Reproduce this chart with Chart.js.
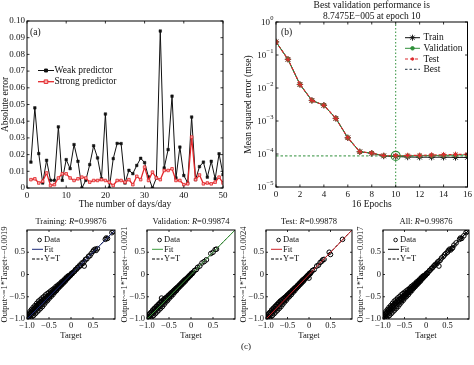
<!DOCTYPE html>
<html>
<head>
<meta charset="utf-8">
<script src="https://cdn.jsdelivr.net/npm/chart.js@4/dist/chart.umd.min.js"></script>
<style>
  body { margin: 0; background: #fff; }
  #wrap { position: relative; width: 474px; height: 365px; overflow: hidden; background: #fff; }
  canvas { position: absolute; }
  #labelC { position: absolute; left: 241px; top: 341px; font: 9px 'Liberation Serif', serif; color: #111; }
</style>
</head>
<body>
<div id="wrap">
  <canvas id="chartA" width="232" height="215" style="left:0;top:0"></canvas>
  <canvas id="chartB" width="242" height="215" style="left:232px;top:0"></canvas>
  <canvas id="chartTrain" width="120" height="150" style="left:0;top:215px"></canvas>
  <canvas id="chartVal" width="120" height="150" style="left:120px;top:215px"></canvas>
  <canvas id="chartTest" width="118" height="150" style="left:239px;top:215px"></canvas>
  <canvas id="chartAll" width="118" height="150" style="left:356px;top:215px"></canvas>
  <div id="labelC">(c)</div>
</div>
<script>
// ---- panel (a): absolute error per day
const days = [1, 2, 3, 4, 5, 6, 7, 8, 9, 10, 11, 12, 13, 14, 15, 16, 17, 18, 19, 20,
  21, 22, 23, 24, 25, 26, 27, 28, 29, 30, 31, 32, 33, 34, 35, 36, 37, 38, 39, 40,
  41, 42, 43, 44, 45, 46, 47, 48, 49, 50];
const weakError = [0.0155, 0.048, 0.0206, 0.003, 0.0166, 0.0046, 0.0046, 0.0366, 0.0046, 0.017,
  0.0116, 0.026, 0.016, 0.0, 0.0046, 0.014, 0.0253, 0.018, 0.0056, 0.0443,
  0.0, 0.0176, 0.0267, 0.0266, 0.003, 0.0106, 0.0086, 0.0135, 0.0178, 0.0152,
  0.0066, 0.0, 0.006, 0.094, 0.012, 0.023, 0.055, 0.006, 0.0245, 0.0075,
  0.003, 0.0425, 0.005, 0.0128, 0.0155, 0.0065, 0.016, 0.0055, 0.0205, 0.008];
const strongError = [0.005, 0.0055, 0.003, 0.004, 0.009, 0.0015, 0.002, 0.006, 0.0085, 0.0085,
  0.006, 0.0045, 0.0055, 0.0065, 0.006, 0.0035, 0.0045, 0.0045, 0.005, 0.0045,
  0.0035, 0.0015, 0.0045, 0.0045, 0.0035, 0.005, 0.002, 0.007, 0.005, 0.0125,
  0.0045, 0.0095, 0.006, 0.005, 0.0105, 0.0105, 0.0115, 0.0045, 0.0045, 0.002,
  0.0025, 0.0305, 0.005, 0.0078, 0.0025, 0.003, 0.0025, 0.0035, 0.0065, 0.003];
const dayTicks = [0, 10, 20, 30, 40, 50];
const errorTicks = [0, 0.01, 0.02, 0.03, 0.04, 0.05, 0.06, 0.07, 0.08, 0.09, 0.1];

// ---- panel (b): training performance
const epochs = [0, 1, 2, 3, 4, 5, 6, 7, 8, 9, 10, 11, 12, 13, 14, 15, 16];
const trainPerf = [0.25, 0.074, 0.0128, 0.0042, 0.003, 0.0012, 0.00031, 0.000117, 0.000105, 0.000087,
  0.000084, 0.000081, 0.00008, 0.00008, 0.00008, 0.000079, 0.000079];
const valPerf = [0.25, 0.074, 0.0128, 0.0042, 0.003, 0.0012, 0.00031, 0.000117, 0.000107, 0.000089,
  0.0000875, 0.000088, 0.000089, 0.00009, 0.000091, 0.000093, 0.000094];
const testPerf = [0.25, 0.074, 0.0128, 0.0042, 0.003, 0.0012, 0.00031, 0.000117, 0.000107, 0.00009,
  0.000089, 0.00009, 0.000091, 0.000093, 0.000095, 0.000097, 0.000098];
const bestPerf = 8.7475e-5;
const bestEpoch = 10;
const epochTicks = [0, 2, 4, 6, 8, 10, 12, 14, 16];
const perfTicks = [1, 0.1, 0.01, 0.001, 0.0001, 0.00001];

// ---- panel (c): regression scatter
const coreTarget = [-1.0, -0.99, -0.97, -0.96, -0.95, -0.93, -0.92, -0.91, -0.89, -0.88, -0.87, -0.85, -0.84,
  -0.83, -0.81, -0.8, -0.79, -0.77, -0.76, -0.75, -0.73, -0.72, -0.71, -0.69, -0.68, -0.67, -0.65, -0.64,
  -0.63, -0.61, -0.6, -0.59, -0.57, -0.56, -0.55, -0.53, -0.52, -0.51, -0.49, -0.48, -0.47, -0.45, -0.44,
  -0.43, -0.41, -0.4, -0.39, -0.37, -0.36, -0.35, -0.33, -0.32, -0.31, -0.29, -0.28, -0.27, -0.25, -0.24,
  -0.23, -0.21, -0.2, -0.19, -0.17, -0.16, -0.15, -0.13, -0.12, -0.11, -0.09, -0.08, -0.07, -0.05, -0.04,
  -0.03, -0.01, 0.0, 0.01, 0.03, 0.05];
const coreOutput = [-1.0, -0.95, -0.99, -0.96, -0.89, -0.98, -0.92, -0.85, -0.95, -0.88, -0.8, -0.92, -0.84,
  -0.76, -0.88, -0.8, -0.72, -0.84, -0.76, -0.68, -0.8, -0.72, -0.64, -0.76, -0.68, -0.6, -0.72, -0.64,
  -0.57, -0.67, -0.6, -0.54, -0.62, -0.56, -0.51, -0.58, -0.52, -0.47, -0.53, -0.48, -0.44, -0.49, -0.44,
  -0.4, -0.45, -0.4, -0.36, -0.4, -0.36, -0.33, -0.36, -0.32, -0.29, -0.31, -0.28, -0.25, -0.27, -0.24,
  -0.21, -0.23, -0.2, -0.17, -0.19, -0.16, -0.13, -0.15, -0.12, -0.1, -0.1, -0.08, -0.06, -0.06, -0.04,
  -0.02, -0.02, 0.0, 0.02, 0.02, 0.05];
const coreMidT = [-0.98, -0.94, -0.9, -0.86, -0.82, -0.78, -0.74, -0.7, -0.66, -0.62, -0.58, -0.54, -0.5,
  -0.46, -0.42, -0.38, -0.34, -0.3, -0.26, -0.22, -0.18, -0.14, -0.1, -0.06, -0.02, 0.02];
const coreMidO = [-0.94, -0.89, -0.85, -0.8, -0.76, -0.72, -0.68, -0.64, -0.6, -0.57, -0.53, -0.5, -0.46,
  -0.42, -0.39, -0.35, -0.31, -0.28, -0.24, -0.2, -0.16, -0.12, -0.09, -0.05, -0.01, 0.03];
const coreUpperT = [-0.98, -0.94, -0.9, -0.86, -0.82, -0.78, -0.74, -0.7, -0.66, -0.62, -0.58, -0.54, -0.5,
  -0.46, -0.42, -0.38, -0.34, -0.3, -0.26, -0.22, -0.18, -0.14, -0.1, -0.06];
const coreUpperO = [-0.9, -0.84, -0.79, -0.74, -0.7, -0.65, -0.6, -0.57, -0.53, -0.5, -0.46, -0.43, -0.4,
  -0.37, -0.34, -0.31, -0.27, -0.24, -0.21, -0.17, -0.14, -0.1, -0.06, -0.03];
const trainTailT = [0.08, 0.1, 0.13, 0.15, 0.18, 0.2, 0.22, 0.25, 0.27, 0.3, 0.3, 0.33, 0.36, 0.4, 0.43,
  0.46, 0.5, 0.52, 0.55, 0.57, 0.6, 0.78, 0.8, 0.83, 0.93, 0.96];
const trainTailO = [0.07, 0.11, 0.12, 0.16, 0.17, 0.21, 0.2, 0.26, 0.25, 0.29, 0.19, 0.34, 0.35, 0.41, 0.42,
  0.47, 0.52, 0.55, 0.57, 0.54, 0.58, 0.79, 0.82, 0.81, 0.94, 0.97];
const valTailT = [-0.67, 0.08, 0.12, 0.15, 0.2, 0.25, 0.3, 0.35, 0.45, 0.5, 0.55, 0.58];
const valTailO = [-0.53, 0.09, 0.11, 0.16, 0.19, 0.26, 0.29, 0.33, 0.47, 0.5, 0.56, 0.57];
const testTailT = [0.0, 0.08, 0.12, 0.18, 0.22, 0.26, 0.3, 0.32, 0.35, 0.47, 0.5, 0.78];
const testTailO = [-0.08, 0.09, 0.11, 0.19, 0.21, 0.27, 0.3, 0.33, 0.34, 0.5, 0.45, 0.79];
const allTailT = [0.08, 0.1, 0.13, 0.15, 0.18, 0.2, 0.22, 0.25, 0.27, 0.3, 0.3, 0.33, 0.36, 0.4, 0.43, 0.46,
  0.5, 0.52, 0.55, 0.57, 0.6, 0.62, 0.65, 0.7, 0.78, 0.8, 0.83, 0.88, 0.93, 0.96];
const allTailO = [0.09, 0.1, 0.14, 0.15, 0.19, 0.2, 0.23, 0.24, 0.28, 0.3, 0.19, 0.32, 0.37, 0.4, 0.44, 0.47,
  0.5, 0.54, 0.57, 0.55, 0.58, 0.6, 0.66, 0.71, 0.79, 0.82, 0.81, 0.87, 0.94, 0.97];
const regTicks = [-1, -0.5, 0, 0.5];

const SERIF = "'Liberation Serif', 'DejaVu Serif', serif";
const INK = '#111';

function frame(xTicks, yTicks, len) {
  return {
    id: 'frame',
    afterDatasetsDraw(chart) {
      const { ctx, chartArea: a, scales: { x, y } } = chart;
      ctx.save();
      ctx.strokeStyle = '#000';
      ctx.lineWidth = 0.8;
      ctx.beginPath();
      xTicks.forEach((v) => {
        const p = x.getPixelForValue(v);
        ctx.moveTo(p, a.bottom); ctx.lineTo(p, a.bottom - len);
        ctx.moveTo(p, a.top); ctx.lineTo(p, a.top + len);
      });
      yTicks.forEach((v) => {
        const p = y.getPixelForValue(v);
        ctx.moveTo(a.left, p); ctx.lineTo(a.left + len, p);
        ctx.moveTo(a.right, p); ctx.lineTo(a.right - len, p);
      });
      ctx.stroke();
      ctx.lineWidth = 1;
      ctx.strokeRect(a.left, a.top, a.right - a.left, a.bottom - a.top);
      ctx.restore();
    },
  };
}

function drawText(ctx, str, x, y, size, align, style) {
  ctx.font = (style || '') + ' ' + size + 'px ' + SERIF;
  ctx.fillStyle = INK;
  ctx.textAlign = align || 'left';
  ctx.textBaseline = 'middle';
  ctx.fillText(str, x, y);
}

function drawMarker(ctx, kind, x, y, r, stroke, fill) {
  ctx.save();
  ctx.strokeStyle = stroke;
  ctx.fillStyle = fill;
  ctx.lineWidth = 0.9;
  ctx.setLineDash([]);
  ctx.beginPath();
  if (kind === 'rect') {
    ctx.rect(x - r, y - r, 2 * r, 2 * r);
    ctx.fill(); ctx.stroke();
  } else if (kind === 'circle') {
    ctx.arc(x, y, r, 0, Math.PI * 2);
    if (fill) ctx.fill();
    ctx.stroke();
  } else if (kind === 'star') {
    ctx.moveTo(x - r, y); ctx.lineTo(x + r, y);
    ctx.moveTo(x, y - r); ctx.lineTo(x, y + r);
    ctx.moveTo(x - r * 0.7, y - r * 0.7); ctx.lineTo(x + r * 0.7, y + r * 0.7);
    ctx.moveTo(x - r * 0.7, y + r * 0.7); ctx.lineTo(x + r * 0.7, y - r * 0.7);
    ctx.stroke();
  }
  ctx.restore();
}

function legendLine(ctx, x0, x1, y, color, dash, width) {
  ctx.save();
  ctx.strokeStyle = color;
  ctx.lineWidth = width || 1;
  ctx.setLineDash(dash || []);
  ctx.beginPath();
  ctx.moveTo(x0, y); ctx.lineTo(x1, y);
  ctx.stroke();
  ctx.restore();
}

function axisFont(size) {
  return { family: SERIF, size: size };
}

// ---------------- panel (a)
new Chart(document.getElementById('chartA'), {
  type: 'line',
  data: {
    datasets: [
      {
        label: 'Weak predictor',
        data: days.map((d, i) => ({ x: d, y: weakError[i] })),
        borderColor: '#111',
        borderWidth: 1,
        pointStyle: 'rect',
        pointRadius: 1.8,
        pointBackgroundColor: '#111',
        pointBorderColor: '#111',
        pointBorderWidth: 0.5,
        order: 1,
      },
      {
        label: 'Strong predictor',
        data: days.map((d, i) => ({ x: d, y: strongError[i] })),
        borderColor: '#e3262a',
        borderWidth: 1.3,
        pointStyle: 'rect',
        pointRadius: 1.8,
        pointBackgroundColor: '#f6b3b3',
        pointBorderColor: '#e3262a',
        pointBorderWidth: 0.8,
        order: 0,
      },
    ],
  },
  options: {
    responsive: false,
    animation: false,
    events: [],
    layout: { padding: { top: 21, right: 9, left: 0, bottom: 0 } },
    plugins: { legend: { display: false }, tooltip: { enabled: false } },
    scales: {
      x: {
        type: 'linear', min: 0, max: 50,
        afterBuildTicks: (s) => { s.ticks = dayTicks.map((v) => ({ value: v })); },
        afterFit: (s) => { s.height = 27; },
        grid: { display: false, drawTicks: false },
        border: { display: false },
        ticks: { font: axisFont(9), color: INK, padding: 2, maxRotation: 0, autoSkip: false },
        title: { display: true, text: 'The number of days/day', font: axisFont(9.5), color: INK, padding: { top: 0, bottom: 4.6 } },
      },
      y: {
        type: 'linear', min: 0, max: 0.1,
        afterBuildTicks: (s) => { s.ticks = errorTicks.map((v) => ({ value: v })); },
        afterFit: (s) => { s.width = 27; },
        grid: { display: false, drawTicks: false },
        border: { display: false },
        ticks: {
          font: axisFont(9), color: INK, padding: 2, autoSkip: false,
          callback: (v) => (v === 0 ? '0' : v.toFixed(2)),
        },
        title: { display: true, text: 'Absolute error', font: axisFont(9.5), color: INK, padding: { top: 0, bottom: 0 } },
      },
    },
  },
  plugins: [
    frame(dayTicks, errorTicks, 2.5),
    {
      id: 'labelsA',
      afterDraw(chart) {
        const ctx = chart.ctx;
        drawText(ctx, '(a)', 30, 32, 9.5);
        legendLine(ctx, 38, 54, 70.5, '#111');
        drawMarker(ctx, 'rect', 46, 70.5, 1.5, '#111', '#111');
        drawText(ctx, 'Weak predictor', 54.5, 70.5, 9.5);
        legendLine(ctx, 38, 54, 81.7, '#e3262a', [], 1.3);
        drawMarker(ctx, 'rect', 46, 81.7, 1.8, '#e3262a', '#f6b3b3');
        drawText(ctx, 'Strong predictor', 54.5, 81.7, 9.5);
      },
    },
  ],
});

// ---------------- panel (b)
const GREEN = '#2f8f3a';
const RED = '#dc2a2e';
new Chart(document.getElementById('chartB'), {
  type: 'line',
  data: {
    datasets: [
      {
        label: 'Best h',
        data: [{ x: 0, y: bestPerf }, { x: 16, y: bestPerf }],
        borderColor: GREEN, borderWidth: 1, borderDash: [2.5, 2], pointRadius: 0, order: 5,
      },
      {
        label: 'Best v',
        data: [{ x: bestEpoch, y: 0.00001 }, { x: bestEpoch, y: 1 }],
        borderColor: GREEN, borderWidth: 1, borderDash: [1.5, 2], pointRadius: 0, order: 5,
      },
      {
        label: 'Train',
        data: epochs.map((e, i) => ({ x: e, y: trainPerf[i] })),
        borderColor: '#111', borderWidth: 1,
        pointStyle: 'star', pointRadius: 3.2, pointBorderColor: '#111', pointBorderWidth: 1,
        order: 3,
      },
      {
        label: 'Validation',
        data: epochs.map((e, i) => ({ x: e, y: valPerf[i] })),
        borderColor: GREEN, borderWidth: 1,
        pointStyle: 'circle', pointRadius: 2, pointBackgroundColor: GREEN, pointBorderColor: GREEN,
        order: 2,
      },
      {
        label: 'Test',
        data: epochs.map((e, i) => ({ x: e, y: testPerf[i] })),
        borderColor: RED, borderWidth: 1.2, borderDash: [3, 2],
        pointStyle: 'star', pointRadius: 2.8, pointBorderColor: RED, pointBorderWidth: 1,
        order: 1,
      },
      {
        label: 'Best',
        data: [{ x: bestEpoch, y: bestPerf }],
        showLine: false,
        pointStyle: 'circle', pointRadius: 4.5, pointBorderColor: GREEN, pointBorderWidth: 1.2,
        pointBackgroundColor: 'rgba(0,0,0,0)',
        order: 0,
      },
    ],
  },
  options: {
    responsive: false,
    animation: false,
    events: [],
    layout: { padding: { top: 22, right: 2, left: 0, bottom: 0 } },
    plugins: { legend: { display: false }, tooltip: { enabled: false } },
    scales: {
      x: {
        type: 'linear', min: 0, max: 16,
        afterBuildTicks: (s) => { s.ticks = epochTicks.map((v) => ({ value: v })); },
        afterFit: (s) => { s.height = 28; },
        grid: { display: false, drawTicks: false },
        border: { display: false },
        ticks: { font: axisFont(9), color: INK, padding: 2, maxRotation: 0, autoSkip: false },
        title: { display: true, text: '16 Epochs', font: axisFont(9.5), color: INK, padding: { top: 0, bottom: 4.6 } },
      },
      y: {
        type: 'logarithmic', min: 0.00001, max: 1,
        afterFit: (s) => { s.width = 44; },
        grid: { display: false, drawTicks: false },
        border: { display: false },
        ticks: { display: false },
        title: { display: true, text: 'Mean squared error (mse)', font: axisFont(9.5), color: INK, padding: { top: 10.6, bottom: 0 } },
      },
    },
  },
  plugins: [
    frame(epochTicks, perfTicks, 2.5),
    {
      id: 'labelsB',
      afterDraw(chart) {
        const { ctx, chartArea: a, scales: { y } } = chart;
        const cx = (a.left + a.right) / 2;
        drawText(ctx, 'Best validation performance is', cx, 5.5, 9.5, 'center');
        drawText(ctx, '8.7475E\u2212005 at epoch 10', cx, 16, 9.5, 'center');
        drawText(ctx, '(b)', a.left + 5, 32, 9.5);
        perfTicks.forEach((v) => {
          const p = y.getPixelForValue(v);
          const n = Math.round(Math.log10(v));
          const exp = n === 0 ? '0' : '\u2212' + (-n);
          ctx.font = '6.5px ' + SERIF;
          const w = ctx.measureText(exp).width;
          const right = a.left - 2.5;
          drawText(ctx, exp, right - w, p - 3.5, 6.5, 'left');
          drawText(ctx, '10', right - w - 0.3, p + 0.5, 9, 'right');
        });
        const lx0 = 173, lx1 = 188, tx = 191.5;
        legendLine(ctx, lx0, lx1, 37.7, '#111');
        drawMarker(ctx, 'star', 180.5, 37.7, 3, '#111', null);
        drawText(ctx, 'Train', tx, 37.7, 9.5);
        legendLine(ctx, lx0, lx1, 48.3, GREEN);
        drawMarker(ctx, 'circle', 180.5, 48.3, 1.8, GREEN, GREEN);
        drawText(ctx, 'Validation', tx, 48.3, 9.5);
        legendLine(ctx, lx0, lx1, 59, RED, [3, 2], 1.2);
        drawMarker(ctx, 'circle', 180.5, 59, 1.3, RED, RED);
        drawText(ctx, 'Test', tx, 59, 9.5);
        legendLine(ctx, lx0, lx1, 69.3, '#234', [2.5, 2]);
        drawText(ctx, 'Best', tx, 69.3, 9.5);
      },
    },
  ],
});

// ---------------- panel (c): four regression plots
function regLabel(v) {
  if (v === 0) return '0';
  return (v < 0 ? '\u2212' : '') + Math.abs(v).toFixed(1);
}

function makeRegression(id, title, rValue, offsetText, offset, fitColor, tailT, tailO, padRight, thick) {
  let targets = coreTarget.concat(coreMidT, tailT);
  let outputs = coreOutput.concat(coreMidO, tailO);
  if (thick) {
    targets = targets.concat(coreUpperT);
    outputs = outputs.concat(coreUpperO);
  }
  new Chart(document.getElementById(id), {
    type: 'scatter',
    data: {
      datasets: [
        {
          label: 'Y=T', type: 'line',
          data: [{ x: -1, y: -1 }, { x: 1, y: 1 }],
          borderColor: '#000', borderWidth: 1, borderDash: [3, 2], pointRadius: 0, order: 1,
        },
        {
          label: 'Fit', type: 'line',
          data: [{ x: -1, y: -1 + offset }, { x: 1, y: 1 + offset }],
          borderColor: fitColor, borderWidth: 1, pointRadius: 0, order: 0,
        },
        {
          label: 'Data',
          data: targets.map((t, i) => ({ x: t, y: outputs[i] })),
          pointStyle: 'circle', pointRadius: 2.3, pointBorderWidth: 1,
          pointBorderColor: '#000', pointBackgroundColor: 'rgba(0,0,0,0)',
          order: 2,
        },
      ],
    },
    options: {
      responsive: false,
      animation: false,
      events: [],
      layout: { padding: { top: 15, right: padRight, left: 0, bottom: 0 } },
      plugins: { legend: { display: false }, tooltip: { enabled: false } },
      scales: {
        x: {
          type: 'linear', min: -1, max: 1,
          afterBuildTicks: (s) => { s.ticks = regTicks.map((v) => ({ value: v })); },
          afterFit: (s) => { s.height = 46; },
          grid: { display: false, drawTicks: false },
          border: { display: false },
          ticks: { font: axisFont(8.5), color: INK, padding: 2, maxRotation: 0, autoSkip: false, callback: regLabel },
          title: { display: true, text: 'Target', font: axisFont(8.5), color: INK, padding: { top: 0, bottom: 24 } },
        },
        y: {
          type: 'linear', min: -1, max: 1,
          afterBuildTicks: (s) => { s.ticks = regTicks.map((v) => ({ value: v })); },
          afterFit: (s) => { s.width = 27; },
          grid: { display: false, drawTicks: false },
          border: { display: false },
          ticks: { font: axisFont(8.5), color: INK, padding: 2, autoSkip: false, callback: regLabel },
          title: { display: true, text: 'Output~=1*Target+' + offsetText, font: axisFont(8.5), color: INK, padding: { top: 0, bottom: 0 } },
        },
      },
    },
    plugins: [
      frame(regTicks, regTicks, 2),
      {
        id: 'labelsReg',
        afterDraw(chart) {
          const { ctx, chartArea: a } = chart;
          const cx = (a.left + a.right) / 2;
          const head = title + ': ';
          const tail = '=' + rValue;
          ctx.font = '8.5px ' + SERIF;
          const w1 = ctx.measureText(head).width;
          const w3 = ctx.measureText(tail).width;
          ctx.font = 'italic 8.5px ' + SERIF;
          const w2 = ctx.measureText('R').width;
          const x = cx - (w1 + w2 + w3) / 2;
          drawText(ctx, head, x, 7, 8.5);
          drawText(ctx, 'R', x + w1, 7, 8.5, 'left', 'italic');
          drawText(ctx, tail, x + w1 + w2, 7, 8.5);
          const lx = a.left;
          drawMarker(ctx, 'circle', lx + 12.6, a.top + 10, 1.8, '#000', null);
          drawText(ctx, 'Data', lx + 17, a.top + 10, 8.5);
          legendLine(ctx, lx + 5, lx + 16, a.top + 19.3, fitColor);
          drawText(ctx, 'Fit', lx + 17, a.top + 19.3, 8.5);
          legendLine(ctx, lx + 5, lx + 16, a.top + 29, '#000', [3, 1.5]);
          drawText(ctx, 'Y=T', lx + 17, a.top + 29, 8.5);
        },
      },
    ],
  });
}

makeRegression('chartTrain', 'Training', '0.99876', '\u22120.0019', -0.0019, '#1c2a78', trainTailT, trainTailO, 2, true);
makeRegression('chartVal', 'Validation', '0.99874', '\u22120.0021', -0.0021, '#3c9a3c', valTailT, valTailO, 2, false);
makeRegression('chartTest', 'Test', '0.99878', '\u22120.0024', -0.0024, '#cc2229', testTailT, testTailO, 1, false);
makeRegression('chartAll', 'All', '0.99876', '\u22120.0017', -0.0017, '#000', allTailT, allTailO, 0, true);
</script>
</body>
</html>
